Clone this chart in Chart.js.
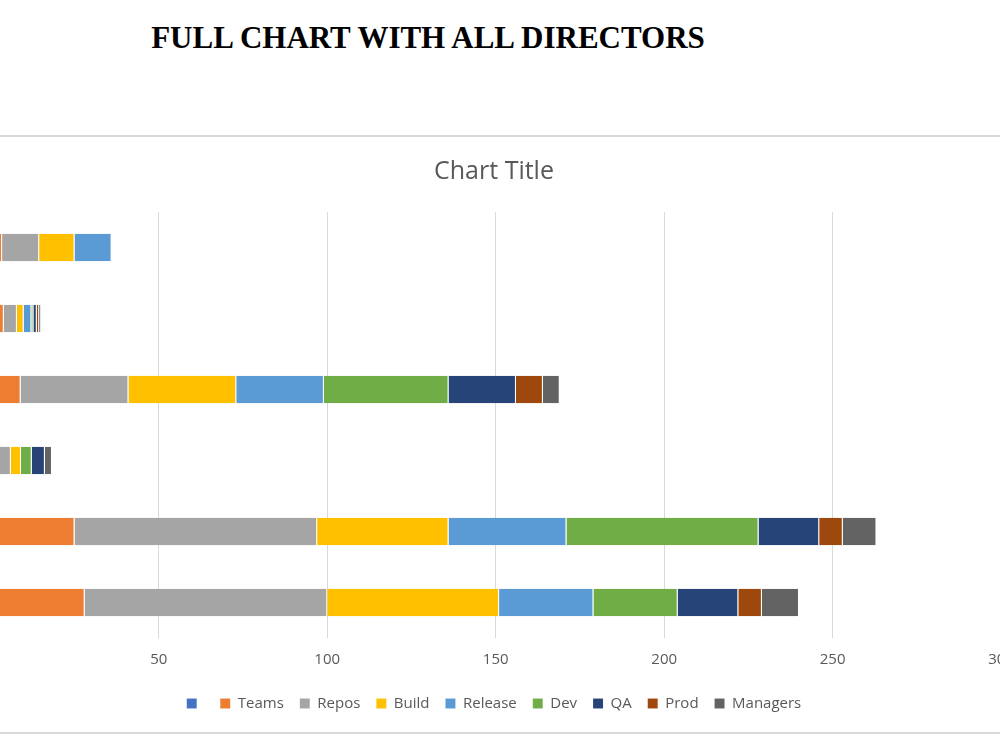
<!DOCTYPE html>
<html>
<head>
<meta charset="utf-8">
<script src="https://cdn.jsdelivr.net/npm/chart.js@4.4.0/dist/chart.umd.min.js"></script>
<style>
    html, body { margin: 0; padding: 0; background: #fff; overflow: hidden; }
    body { width: 1000px; height: 750px; position: relative; }
    #heading {
        position: absolute; left: 0; top: 20px; width: 856px;
        text-align: center; font: bold 31px 'Liberation Serif', 'Times New Roman', serif; color: #000;
    }
    .rule { position: absolute; left: 0; width: 1000px; height: 2px; background: #d9d9d9; }
    #chartBox { position: absolute; left: -27px; top: 137px; width: 1054px; height: 595px; }
</style>
</head>
<body>
<div id="heading">FULL CHART WITH ALL DIRECTORS</div>
<div class="rule" style="top:135px"></div>
<div class="rule" style="top:732px"></div>
<div id="chartBox"><canvas id="directorsChart"></canvas></div>
<script>
// Directors (top to bottom as shown)
const directors = ['Director 1', 'Director 2', 'Director 3', 'Director 4', 'Director 5', 'Director 6'];

// Series values, one per director
const blank    = [0, 0, 0, 0, 0, 0];
const teams    = [3.5, 4, 9, 2.5, 25, 28];
const repos    = [11, 3.9, 32, 3.6, 72, 72];
const build    = [10.5, 2, 32, 3, 39, 51];
const release  = [11, 2.3, 26, 0, 35, 28];
const dev      = [0, 0.6, 37, 3.2, 57, 25];
const qa       = [0, 1, 20, 3.9, 18, 18];
const prod     = [0, 0.7, 8, 0, 7, 7];
const managers = [0, 0.6, 5, 2.1, 10, 11];

const xTicks = [0, 50, 100, 150, 200, 250, 300];

const textGray = '#595959';
const font = "'Open Sans', 'Noto Sans', sans-serif";

function series(label, data, color) {
    return {
        label: label,
        data: data,
        backgroundColor: color,
        borderColor: 'rgba(255,255,255,0.35)',
        borderWidth: { left: 0, right: 1, top: 0, bottom: 0 },
        borderSkipped: false,
        barPercentage: 0.39,
        categoryPercentage: 1.0
    };
}

const ctx = document.getElementById('directorsChart');

new Chart(ctx, {
    type: 'bar',
    data: {
        labels: directors,
        datasets: [
            series('', blank, '#4472C4'),
            series('Teams', teams, '#ED7D31'),
            series('Repos', repos, '#A5A5A5'),
            series('Build', build, '#FFC000'),
            series('Release', release, '#5B9BD5'),
            series('Dev', dev, '#70AD47'),
            series('QA', qa, '#264478'),
            series('Prod', prod, '#9E480E'),
            series('Managers', managers, '#636363')
        ]
    },
    options: {
        indexAxis: 'y',
        responsive: true,
        maintainAspectRatio: false,
        animation: false,
        layout: {
            padding: { left: 0, right: 12, top: 0, bottom: 11 }
        },
        plugins: {
            title: {
                display: true,
                text: 'Chart Title',
                color: textGray,
                font: { family: font, size: 25, weight: 'normal' },
                padding: { top: 20, bottom: 25 }
            },
            legend: {
                display: true,
                position: 'bottom',
                labels: {
                    color: textGray,
                    font: { family: font, size: 15 },
                    boxWidth: 10,
                    boxHeight: 10,
                    padding: 16
                }
            },
            tooltip: { enabled: false }
        },
        scales: {
            x: {
                stacked: true,
                min: 0,
                max: 300,
                afterBuildTicks: function (scale) {
                    scale.ticks = xTicks.map(v => ({ value: v }));
                },
                afterFit: function (scale) {
                    scale.height -= 2;
                },
                grid: { color: '#d9d9d9', lineWidth: 1, drawTicks: false },
                border: { display: false },
                ticks: {
                    color: textGray,
                    font: { family: font, size: 15 },
                    padding: 13,
                    maxRotation: 0
                }
            },
            y: {
                stacked: true,
                display: false,
                grid: { display: false }
            }
        }
    }
});
</script>
</body>
</html>
